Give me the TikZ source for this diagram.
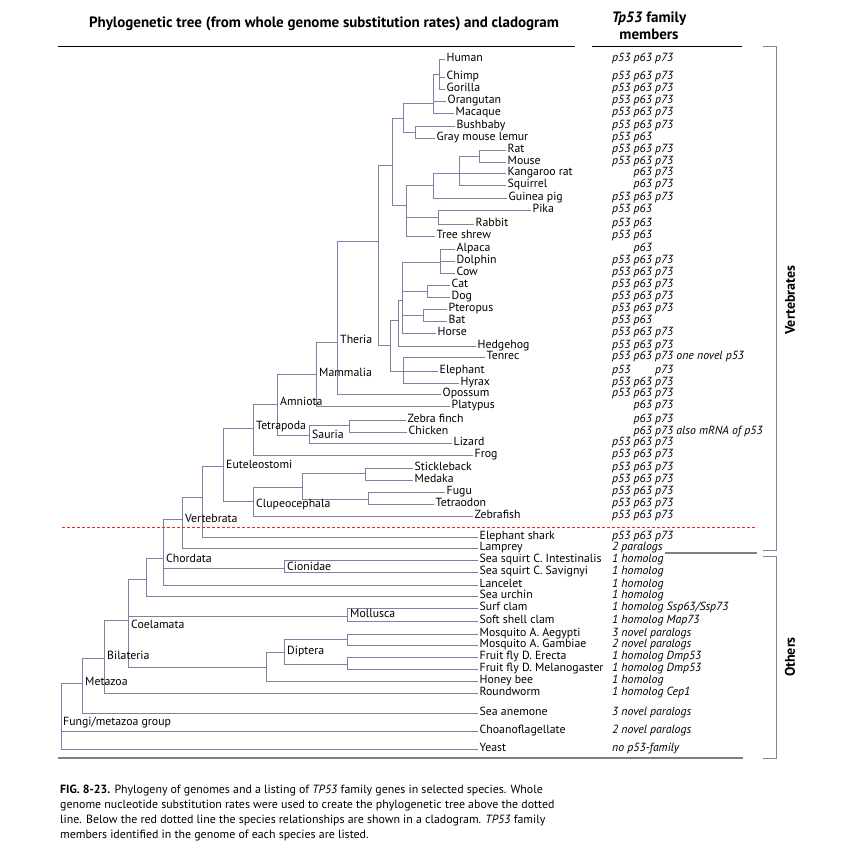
\documentclass[tikz,border=0pt]{standalone}
\usepackage{fontspec}
\setmainfont{PT Sans}
\usepackage{tikz}
\usetikzlibrary{positioning,calc}
\definecolor{treeline}{RGB}{128,128,165}
\definecolor{cutred}{RGB}{232,40,40}

\begin{document}
\begin{tikzpicture}[x=1pt,y=-1pt,
    branch/.style={draw=treeline,line width=0.9pt},
    leaf/.style={anchor=west,inner xsep=1.5pt,inner ysep=0pt,text height=8pt,text depth=2.2pt,
                 font=\fontsize{11.8}{12}\selectfont},
    clade/.style={anchor=west,inner sep=0pt,text height=8pt,text depth=2.2pt,
                  font=\fontsize{11.8}{12}\selectfont},
    gene/.style={anchor=west,inner sep=0pt,text height=8pt,text depth=2.2pt,
                 font=\itshape\fontsize{11.8}{12}\selectfont},
    heading/.style={font=\bfseries\fontsize{15}{16.5}\selectfont,align=center}]
  \useasboundingbox (0,0) rectangle (842,862);

  % headings
  \node[heading] (title) at (324,24) {Phylogenetic tree (from whole genome substitution rates) and cladogram};
  \node[heading] (colhead) at (649,26) {\textit{Tp53} family\\members};
  \draw[line width=0.8pt] (58,46) -- (575,46);
  \draw[line width=0.8pt] (592,46) -- (742,46);

  % species
  \foreach \n/\x/\y/\t in {human/445/59/Human, chimp/445/77/Chimp, gorilla/445/89/Gorilla,
      orangutan/446/101/Orangutan, macaque/454/113/Macaque, bushbaby/455/126/Bushbaby,
      lemur/435/138/Gray mouse lemur, rat/506/150/Rat, mouse/506/162/Mouse,
      krat/506/173/Kangaroo rat, squirrel/506/185/Squirrel, gpig/507/198/Guinea pig,
      pika/531/210/Pika, rabbit/474/224/Rabbit, tshrew/435/236/Tree shrew,
      alpaca/455/249/Alpaca, dolphin/455/261/Dolphin, cow/455/273/Cow, cat/450/285/Cat,
      dog/450/297/Dog, pteropus/447/309/Pteropus, bat/447/321/Bat, horse/436/333/Horse,
      hedgehog/476/346/Hedgehog, tenrec/485/357/Tenrec, elephant/438/371/Elephant,
      hyrax/459/383/Hyrax, opossum/441/394/Opossum, platypus/450/406/Platypus,
      zfinch/406/420/Zebra finch, chicken/407/432/Chicken, lizard/452/443/Lizard,
      frog/473/455/Frog, stickle/413/468/Stickleback, medaka/413/480/Medaka,
      fugu/445/492/Fugu, tetraodon/434/504/Tetraodon, zebrafish/473/516/Zebrafish,
      eshark/478/537/Elephant shark, lamprey/478/548/Lamprey,
      ssi/478/560/Sea squirt C. Intestinalis, sss/478/572/Sea squirt C. Savignyi,
      lancelet/478/585/Lancelet, urchin/478/596/Sea urchin, surf/478/608/Surf clam,
      soft/478/621/Soft shell clam, aegypti/478/634/Mosquito A. Aegypti,
      gambiae/478/645/Mosquito A. Gambiae, erecta/478/657/Fruit fly D. Erecta,
      melano/478/669/Fruit fly D. Melanogaster, bee/478/681/Honey bee,
      worm/478/693/Roundworm, anemone/478/713/Sea anemone,
      choano/478/731/Choanoflagellate, yeast/478/749/Yeast}
    \node[leaf] (\n) at (\x,\y) {\t};

  % inner nodes
  \coordinate (hcg) at (439,74);
  \coordinate (apes) at (433,103);
  \coordinate (strep) at (415,132);
  \coordinate (prim) at (403,118);
  \coordinate (rm) at (479,156);
  \coordinate (roda) at (459,173);
  \coordinate (rod) at (433,185);
  \coordinate (lago) at (438,217);
  \coordinate (glires) at (406,205);
  \coordinate (euarch) at (392,165);
  \coordinate (cet) at (440,262);
  \coordinate (carn) at (427,291);
  \coordinate (chir) at (423,315);
  \coordinate (fer) at (402,300);
  \coordinate (laur) at (398,320);
  \coordinate (afro) at (403,371);
  \coordinate (atl) at (390,345);
  \coordinate (euth) at (378,241);
  \coordinate (theria) at (337,342);
  \coordinate (mamm) at (316,374);
  \coordinate (zc) at (349,425);
  \coordinate (sauria) at (309,435);
  \coordinate (amniota) at (277,404);
  \coordinate (tetra) at (253,428);
  \coordinate (sm) at (365,473);
  \coordinate (ft) at (368,499);
  \coordinate (perco) at (302,487);
  \coordinate (clupeo) at (253,501);
  \coordinate (eutel) at (223,466);
  \coordinate (gnath) at (202,497);
  \coordinate (vert) at (182,519);
  \coordinate (cion) at (284,568);
  \coordinate (chord) at (163,558);
  \coordinate (deut) at (146,579);
  \coordinate (moll) at (347,616);
  \coordinate (mosq) at (347,639);
  \coordinate (fly) at (347,664);
  \coordinate (dipt) at (284,652);
  \coordinate (arth) at (266,667);
  \coordinate (coel) at (128,620);
  \coordinate (bil) at (104,658);
  \coordinate (meta) at (82,683);
  \coordinate (root) at (61,700);

  \foreach \p/\c in {hcg/human, hcg/chimp, hcg/gorilla, apes/hcg, apes/orangutan, apes/macaque,
      strep/bushbaby, strep/lemur, prim/apes, prim/strep, rm/rat, rm/mouse, roda/rm, roda/krat,
      roda/squirrel, rod/roda, rod/gpig, lago/pika, lago/rabbit, glires/rod, glires/lago,
      glires/tshrew, euarch/prim, euarch/glires, cet/alpaca, cet/dolphin, cet/cow, carn/cat,
      carn/dog, chir/pteropus, chir/bat, fer/cet, fer/carn, fer/chir, fer/horse, laur/fer,
      laur/hedgehog, afro/tenrec, afro/elephant, afro/hyrax, atl/laur, atl/afro, euth/euarch,
      euth/atl, theria/euth, theria/opossum, mamm/theria, mamm/platypus, zc/zfinch, zc/chicken,
      sauria/zc, sauria/lizard, amniota/mamm, amniota/sauria, tetra/amniota, tetra/frog,
      sm/stickle, sm/medaka, ft/fugu, ft/tetraodon, perco/sm, perco/ft, clupeo/perco,
      clupeo/zebrafish, eutel/tetra, eutel/clupeo, gnath/eutel, gnath/eshark, vert/gnath,
      vert/lamprey, cion/ssi, cion/sss, chord/vert, chord/cion, chord/lancelet, deut/chord,
      deut/urchin, moll/surf, moll/soft, mosq/aegypti, mosq/gambiae, fly/erecta, fly/melano,
      dipt/mosq, dipt/fly, arth/dipt, arth/bee, coel/deut, coel/moll, coel/arth, bil/coel,
      bil/worm, meta/bil, meta/anemone, root/meta, root/choano, root/yeast}
    \draw[branch] (\p) |- (\c);

  % clade names
  \node[clade] (l-theria) at (340,341) {Theria};
  \node[clade] (l-mamm) at (319,374) {Mammalia};
  \node[clade] (l-amniota) at (280,403) {Amniota};
  \node[clade] (l-tetra) at (256,427) {Tetrapoda};
  \node[clade] (l-sauria) at (312,436) {Sauria};
  \node[clade] (l-eutel) at (226,466) {Euteleostomi};
  \node[clade] (l-clupeo) at (256,505) {Clupeocephala};
  \node[clade] (l-vert) at (185,520) {Vertebrata};
  \node[clade] (l-chord) at (166,560) {Chordata};
  \node[clade] (l-cion) at (287,568) {Cionidae};
  \node[clade] (l-moll) at (350,615) {Mollusca};
  \node[clade] (l-coel) at (131,626) {Coelamata};
  \node[clade] (l-dipt) at (287,652) {Diptera};
  \node[clade] (l-bil) at (107,657) {Bilateria};
  \node[clade] (l-meta) at (85,683) {Metazoa};
  \node[clade] (l-fungi) at (63,723) {Fungi/metazoa group};

  % family members
  \foreach \y/\t in {59/p53 p63 p73, 77/p53 p63 p73, 89/p53 p63 p73, 101/p53 p63 p73,
      113/p53 p63 p73, 126/p53 p63 p73, 138/p53 p63, 150/p53 p63 p73, 162/p53 p63 p73,
      173/\phantom{p53 }p63 p73, 185/\phantom{p53 }p63 p73, 198/p53 p63 p73, 210/p53 p63,
      224/p53 p63, 236/p53 p63, 249/\phantom{p53 }p63, 261/p53 p63 p73, 273/p53 p63 p73,
      285/p53 p63 p73, 297/p53 p63 p73, 309/p53 p63 p73, 321/p53 p63, 333/p53 p63 p73,
      346/p53 p63 p73, 357/p53 p63 p73 one novel p53, 371/p53 \phantom{p63 }p73,
      383/p53 p63 p73, 394/p53 p63 p73, 406/\phantom{p53 }p63 p73, 420/\phantom{p53 }p63 p73,
      432/\phantom{p53 }p63 p73 also mRNA of p53, 443/p53 p63 p73, 455/p53 p63 p73,
      468/p53 p63 p73, 480/p53 p63 p73, 492/p53 p63 p73, 504/p53 p63 p73, 516/p53 p63 p73,
      537/p53 p63 p73, 548/2 paralogs, 560/1 homolog, 572/1 homolog, 585/1 homolog,
      596/1 homolog, 621/1 homolog Map73, 634/3 novel paralogs, 645/2 novel paralogs,
      657/1 homolog Dmp53, 669/1 homolog Dmp53, 681/1 homolog, 693/1 homolog Cep1,
      713/3 novel paralogs, 731/2 novel paralogs, 749/no p53-family}
    \node[gene] (g\y) at (612,\y) {\t};
  \node[gene] (g608) at (612,608) {1 homolog Ssp63/Ssp73};

  % separators and brackets
  \draw[cutred,line width=0.8pt,dash pattern=on 3pt off 2pt] (62,527) -- (757,527);
  \draw[gray,line width=1.2pt] (665,553) -- (757,553);
  \draw[gray,line width=1.6pt] (58,758) -- (743,758);
  \draw[treeline,line width=0.9pt] (763,46) -- (776,46) -- (776,550) -- (763,550);
  \draw[treeline,line width=0.9pt] (763,556) -- (776,556) -- (776,758) -- (763,758);
  \node[heading,rotate=90,font=\bfseries\fontsize{14}{16}\selectfont] (vtext) at (790,300) {Vertebrates};
  \node[heading,rotate=90,font=\bfseries\fontsize{14}{16}\selectfont] (otext) at (790,657) {Others};

  % caption
  \node[anchor=north west,align=left,inner sep=0pt,font=\fontsize{11.9}{15}\selectfont] (caption) at (60,785)
    {\textbf{FIG. 8-23.} Phylogeny of genomes and a listing of \textit{TP53} family genes in selected species. Whole\\
     genome nucleotide substitution rates were used to create the phylogenetic tree above the dotted\\
     line. Below the red dotted line the species relationships are shown in a cladogram. \textit{TP53} family\\
     members identified in the genome of each species are listed.};
\end{tikzpicture}
\end{document}
